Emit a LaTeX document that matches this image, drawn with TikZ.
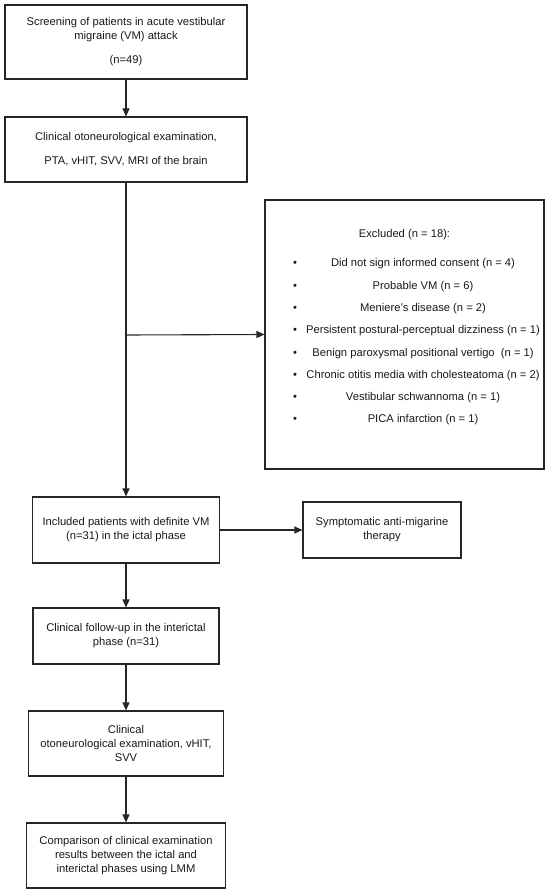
\documentclass[tikz,border=0pt]{standalone}
\usepackage{fontspec}
\setmainfont{Liberation Sans}
\usetikzlibrary{arrows.meta}
\begin{document}
\begin{tikzpicture}[x=1pt,y=1pt,
  box/.style={draw=black!85, line width=1.1pt, align=center, inner sep=0pt,
    font=\fontsize{11.2}{14}\selectfont, text=black!90},
  txt/.style={inner sep=0pt, font=\fontsize{11.2}{14}\selectfont, text=black!90},
  arr/.style={draw=black!85, line width=1.1pt, -{Triangle[length=8pt,width=7pt]}}]
\useasboundingbox (0,0) rectangle (550,-893);
\node[box, minimum width=242, minimum height=74] (b1) at (126,-42)
  {Screening of patients in acute vestibular\\migraine (VM) attack\\[10pt](n=49)};
\node[box, minimum width=242, minimum height=65] (b2) at (126,-149.5)
  {Clinical otoneurological examination,\\[10pt]PTA, vHIT, SVV, MRI of the brain};
\node[box, minimum width=187, minimum height=66] (b3) at (126,-530)
  {Included patients with definite VM\\(n=31) in the ictal phase};
\node[box, minimum width=158, minimum height=56] (sym) at (382,-530)
  {Symptomatic anti-migarine\\therapy};
\node[box, minimum width=186, minimum height=56] (b4) at (126,-636)
  {Clinical follow-up in the interictal\\phase (n=31)};
\node[box, minimum width=195, minimum height=65] (b5) at (126,-743.5)
  {Clinical\\otoneurological examination, vHIT,\\SVV};
\node[box, minimum width=199, minimum height=65] (b6) at (126,-855.5)
  {Comparison of clinical examination\\results between the ictal and\\interictal phases using LMM};
\node[box, minimum width=279, minimum height=269] (ex) at (404.5,-334.5) {};
\node[txt] (t0) at (404.5,-235) {Excluded (n = 18):};
\foreach \i/\y/\t in {1/264/{Did not sign informed consent (n = 4)},
  2/287/{Probable VM (n = 6)},
  3/309/{Meniere's disease (n = 2)},
  4/331/{Persistent postural-perceptual dizziness (n = 1)},
  5/354/{Benign paroxysmal positional vertigo\ \ (n = 1)},
  6/376/{Chronic otitis media with cholesteatoma (n = 2)},
  7/398/{Vestibular schwannoma (n = 1)},
  8/420/{PICA infarction (n = 1)}}{
  \node[txt] (bul\i) at (295,-\y) {•};
  \node[txt] (it\i) at (423,-\y) {\t};
}
\coordinate (br) at (126,-335);
\draw[arr] (b1) -- (b2);
\draw[arr] (b2) -- (b3);
\draw[arr] (br) -- (ex.west);
\draw[arr] (b3) -- (sym);
\draw[arr] (b3) -- (b4);
\draw[arr] (b4) -- (b5);
\draw[arr] (b5) -- (b6);
\end{tikzpicture}
\end{document}
